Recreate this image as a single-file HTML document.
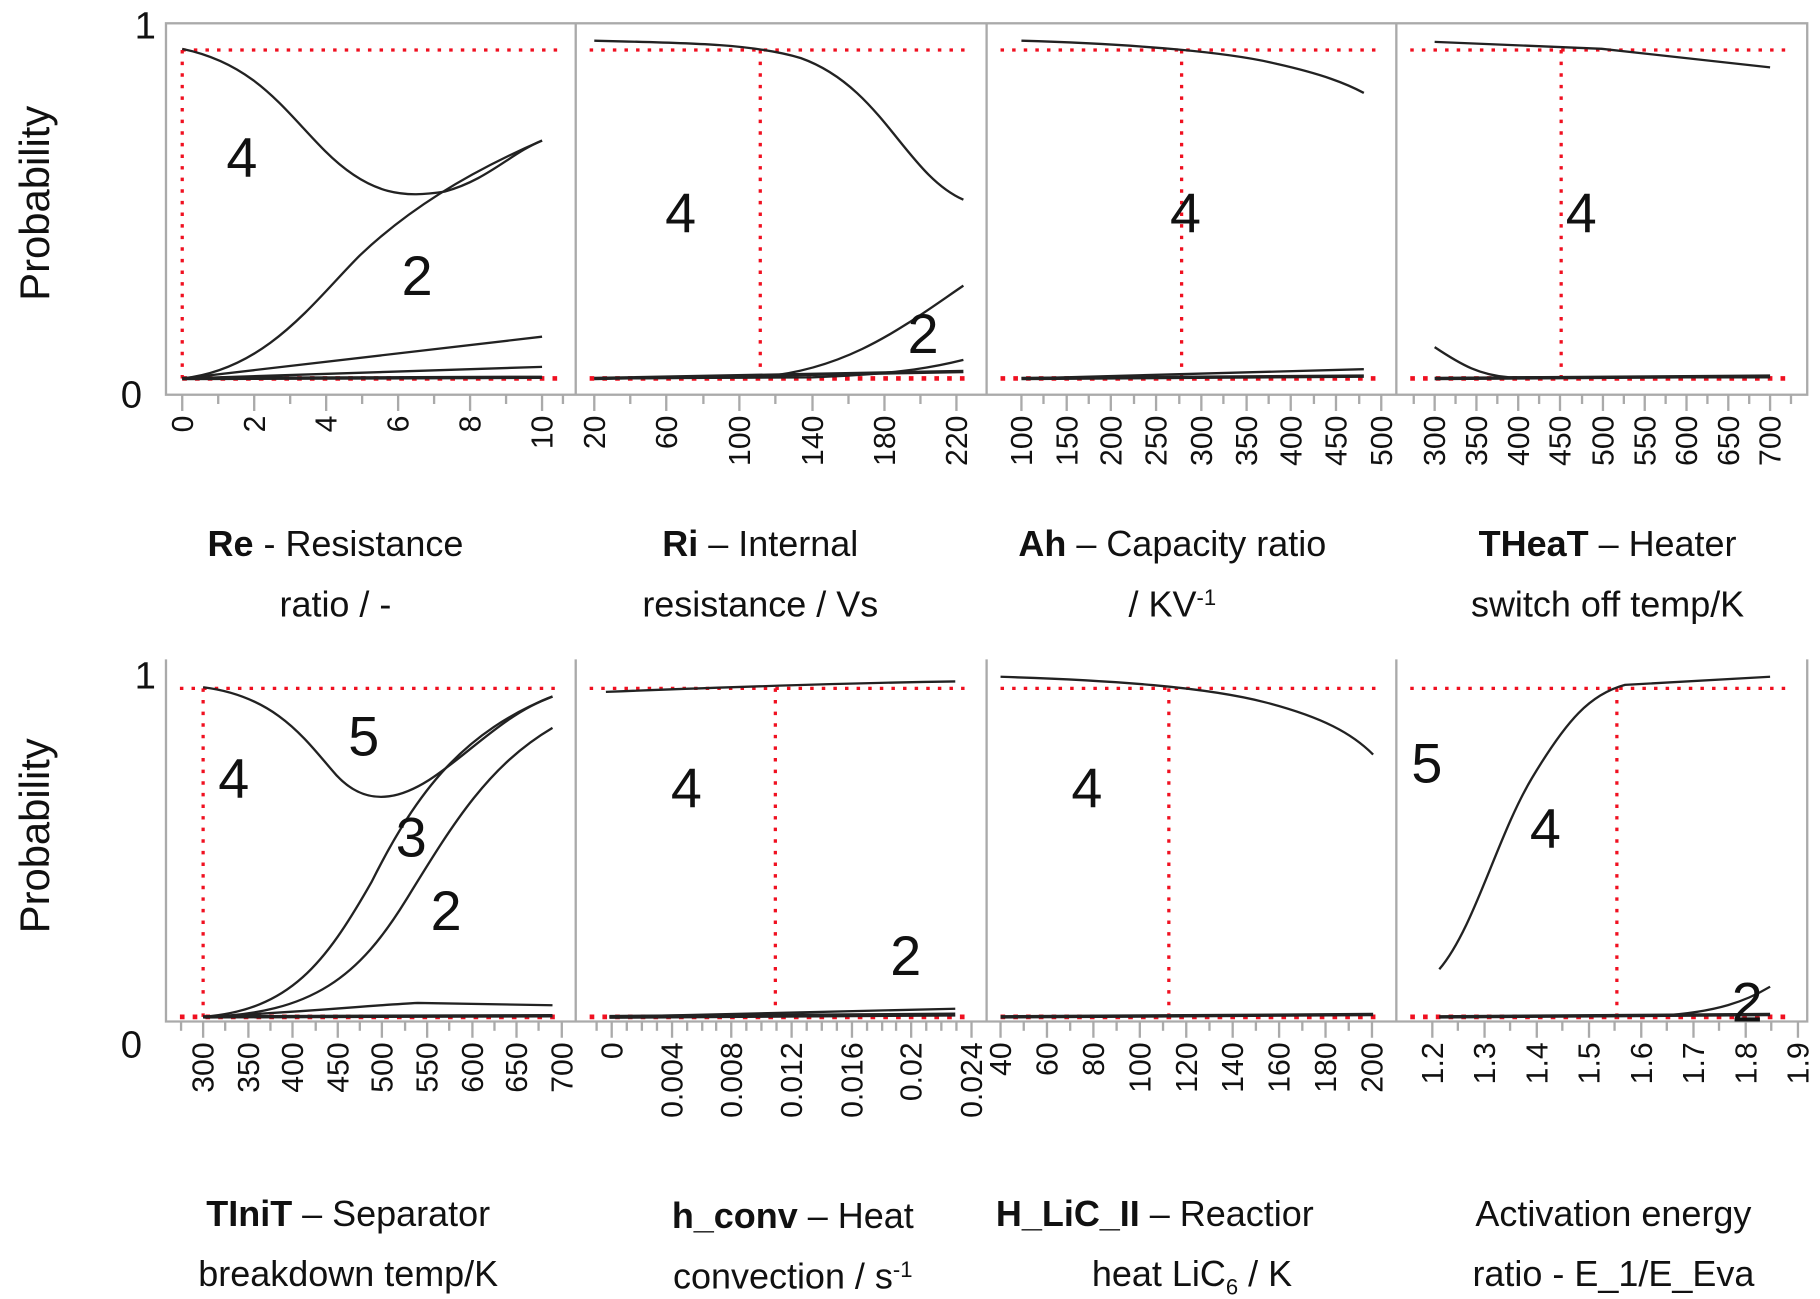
<!DOCTYPE html>
<html><head><meta charset="utf-8"><style>
html,body{margin:0;padding:0;background:#fff}
svg{display:block}
text{font-family:"Liberation Sans",sans-serif;fill:#111}
.tl{font-size:26px}
.ti{font-size:31px}
.big{font-size:48px}
.c{fill:none;stroke:#222;stroke-width:2}
.r{stroke:#f01020;stroke-width:2.8;stroke-dasharray:3 7;fill:none}
.rb{stroke:#f01020;stroke-width:4;stroke-dasharray:4 7;fill:none}
.fr{fill:none;stroke:#aaa;stroke-width:2}
.tk{stroke:#aaa;stroke-width:2}
</style></head><body>
<svg width="1820" height="1299" viewBox="0 0 1568 1119" xmlns="http://www.w3.org/2000/svg">
<text x="116" y="33" style="font-size:33px">1</text>
<text x="104" y="351" style="font-size:33px">0</text>
<text transform="translate(42,175) rotate(-90)" text-anchor="middle" style="font-size:36px">Probability</text>
<text x="116" y="593" style="font-size:33px">1</text>
<text x="104" y="911" style="font-size:33px">0</text>
<text transform="translate(42,720) rotate(-90)" text-anchor="middle" style="font-size:36px">Probability</text>

<rect class="fr" x="143" y="20" width="1414" height="320"/>
<line class="fr" x1="496" y1="20" x2="496" y2="340"/>
<line class="fr" x1="850" y1="20" x2="850" y2="340"/>
<line class="fr" x1="1203" y1="20" x2="1203" y2="340"/>
<polyline class="fr" points="143,568 143,880 1557,880 1557,568"/>
<line class="fr" x1="496" y1="568" x2="496" y2="880"/>
<line class="fr" x1="850" y1="568" x2="850" y2="880"/>
<line class="fr" x1="1203" y1="568" x2="1203" y2="880"/>

<g class="r">
<line x1="157" y1="43" x2="484" y2="43"/><line x1="157" y1="43" x2="157" y2="326"/>
<line x1="508" y1="43" x2="838" y2="43"/><line x1="655" y1="43" x2="655" y2="326"/>
<line x1="862" y1="43" x2="1191" y2="43"/><line x1="1018" y1="43" x2="1018" y2="326"/>
<line x1="1215" y1="43" x2="1545" y2="43"/><line x1="1345" y1="43" x2="1345" y2="326"/>
<line x1="155" y1="593" x2="484" y2="593"/><line x1="175" y1="593" x2="175" y2="876"/>
<line x1="508" y1="593" x2="838" y2="593"/><line x1="668" y1="593" x2="668" y2="876"/>
<line x1="862" y1="593" x2="1191" y2="593"/><line x1="1007" y1="593" x2="1007" y2="876"/>
<line x1="1215" y1="593" x2="1545" y2="593"/><line x1="1393" y1="593" x2="1393" y2="876"/>
</g>
<g class="rb">
<line x1="157" y1="326" x2="484" y2="326"/><line x1="508" y1="326" x2="838" y2="326"/><line x1="862" y1="326" x2="1191" y2="326"/><line x1="1215" y1="326" x2="1545" y2="326"/>
<line x1="155" y1="876" x2="484" y2="876"/><line x1="508" y1="876" x2="838" y2="876"/><line x1="862" y1="876" x2="1191" y2="876"/><line x1="1215" y1="876" x2="1545" y2="876"/>
</g>

<path class="c" d="M157,42 C220,55 245,95 280,130 C320,170 350,170 383,165 C420,155 440,132 467,121"/>
<path class="c" d="M157,326 C230,318 270,260 310,220 C350,182 400,150 467,121"/>
<path class="c" d="M157,326 L467,290"/>
<path class="c" d="M157,326 L467,316"/>
<path class="c" style="stroke-width:3" d="M157,326 L467,325"/>
<text class="big" x="195" y="152">4</text>
<text class="big" x="346" y="254">2</text>

<path class="c" d="M512,35 C600,37 650,38 690,50 C760,75 780,150 830,172"/>
<path class="c" d="M512,326 L650,325 C730,320 780,280 830,246"/>
<path class="c" d="M512,326 L700,325 C780,322 810,315 830,310"/>
<path class="c" style="stroke-width:3" d="M512,326 L830,320"/>
<text class="big" x="573" y="200">4</text>
<text class="big" x="782" y="304">2</text>

<path class="c" d="M880,35 C980,38 1060,45 1100,55 C1140,64 1160,72 1175,80"/>
<path class="c" style="stroke-width:3" d="M880,326 L1175,324"/>
<path class="c" d="M880,326 L1175,318"/>
<text class="big" x="1008" y="200">4</text>

<path class="c" d="M1236,36 L1380,42 L1525,58"/>
<path class="c" d="M1236,299 C1260,315 1275,323 1300,325 L1525,325"/>
<path class="c" style="stroke-width:3" d="M1236,326 L1525,324"/>
<text class="big" x="1349" y="200">4</text>

<path class="c" d="M175,592 C240,600 265,640 290,668 C305,684 320,688 335,686 C380,680 420,620 476,600"/>
<path class="c" d="M175,876 C250,870 280,830 320,760 C360,680 400,630 476,600"/>
<path class="c" d="M175,876 C270,874 310,840 350,775 C390,710 420,660 476,627"/>
<path class="c" d="M175,876 C260,872 320,866 360,864 L476,866"/>
<path class="c" style="stroke-width:3" d="M175,876 L476,875"/>
<text class="big" x="188" y="687">4</text>
<text class="big" x="300" y="651">5</text>
<text class="big" x="341" y="738">3</text>
<text class="big" x="371" y="801">2</text>

<path class="c" d="M522,596 C650,591 750,588 823,587"/>
<path class="c" style="stroke-width:3.5" d="M525,876 L823,874"/>
<path class="c" d="M525,876 L823,869"/>
<text class="big" x="578" y="695">4</text>
<text class="big" x="767" y="840">2</text>

<path class="c" d="M862,583 C960,586 1040,592 1090,605 C1140,618 1165,632 1183,650"/>
<path class="c" style="stroke-width:3" d="M862,876 L1183,874"/>
<text class="big" x="923" y="695">4</text>

<path class="c" d="M1240,835 C1270,800 1290,720 1320,670 C1350,620 1370,598 1400,590 L1525,583"/>
<path class="c" d="M1240,876 L1430,875 C1480,872 1505,862 1525,850"/>
<path class="c" style="stroke-width:3" d="M1240,876 L1525,874"/>
<text class="big" x="1216" y="674">5</text>
<text class="big" x="1318" y="730">4</text>
<text class="big" x="1492" y="880">2</text>

<g class="tk">
<line x1="157" y1="340" x2="157" y2="354"/><line x1="188" y1="340" x2="188" y2="348"/><line x1="219" y1="340" x2="219" y2="354"/><line x1="250" y1="340" x2="250" y2="348"/><line x1="281" y1="340" x2="281" y2="354"/><line x1="312" y1="340" x2="312" y2="348"/><line x1="343" y1="340" x2="343" y2="354"/><line x1="374" y1="340" x2="374" y2="348"/><line x1="405" y1="340" x2="405" y2="354"/><line x1="436" y1="340" x2="436" y2="348"/><line x1="467" y1="340" x2="467" y2="354"/><line x1="485" y1="340" x2="485" y2="348"/>
<line x1="512" y1="340" x2="512" y2="354"/><line x1="543" y1="340" x2="543" y2="348"/><line x1="574" y1="340" x2="574" y2="354"/><line x1="606" y1="340" x2="606" y2="348"/><line x1="637" y1="340" x2="637" y2="354"/><line x1="668" y1="340" x2="668" y2="348"/><line x1="700" y1="340" x2="700" y2="354"/><line x1="731" y1="340" x2="731" y2="348"/><line x1="762" y1="340" x2="762" y2="354"/><line x1="793" y1="340" x2="793" y2="348"/><line x1="824" y1="340" x2="824" y2="354"/>
<line x1="880" y1="340" x2="880" y2="354"/><line x1="899" y1="340" x2="899" y2="348"/><line x1="919" y1="340" x2="919" y2="354"/><line x1="938" y1="340" x2="938" y2="348"/><line x1="957" y1="340" x2="957" y2="354"/><line x1="977" y1="340" x2="977" y2="348"/><line x1="996" y1="340" x2="996" y2="354"/><line x1="1016" y1="340" x2="1016" y2="348"/><line x1="1035" y1="340" x2="1035" y2="354"/><line x1="1054" y1="340" x2="1054" y2="348"/><line x1="1074" y1="340" x2="1074" y2="354"/><line x1="1093" y1="340" x2="1093" y2="348"/><line x1="1112" y1="340" x2="1112" y2="354"/><line x1="1132" y1="340" x2="1132" y2="348"/><line x1="1151" y1="340" x2="1151" y2="354"/><line x1="1171" y1="340" x2="1171" y2="348"/><line x1="1190" y1="340" x2="1190" y2="354"/>
<line x1="1218" y1="340" x2="1218" y2="348"/><line x1="1236" y1="340" x2="1236" y2="354"/><line x1="1254" y1="340" x2="1254" y2="348"/><line x1="1272" y1="340" x2="1272" y2="354"/><line x1="1290" y1="340" x2="1290" y2="348"/><line x1="1308" y1="340" x2="1308" y2="354"/><line x1="1326" y1="340" x2="1326" y2="348"/><line x1="1344" y1="340" x2="1344" y2="354"/><line x1="1363" y1="340" x2="1363" y2="348"/><line x1="1381" y1="340" x2="1381" y2="354"/><line x1="1399" y1="340" x2="1399" y2="348"/><line x1="1417" y1="340" x2="1417" y2="354"/><line x1="1435" y1="340" x2="1435" y2="348"/><line x1="1453" y1="340" x2="1453" y2="354"/><line x1="1471" y1="340" x2="1471" y2="348"/><line x1="1489" y1="340" x2="1489" y2="354"/><line x1="1507" y1="340" x2="1507" y2="348"/><line x1="1525" y1="340" x2="1525" y2="354"/><line x1="1543" y1="340" x2="1543" y2="348"/>
</g>
<g class="tk">
<line x1="156" y1="880" x2="156" y2="888"/><line x1="175" y1="880" x2="175" y2="894"/><line x1="194" y1="880" x2="194" y2="888"/><line x1="214" y1="880" x2="214" y2="894"/><line x1="233" y1="880" x2="233" y2="888"/><line x1="252" y1="880" x2="252" y2="894"/><line x1="272" y1="880" x2="272" y2="888"/><line x1="291" y1="880" x2="291" y2="894"/><line x1="310" y1="880" x2="310" y2="888"/><line x1="329" y1="880" x2="329" y2="894"/><line x1="349" y1="880" x2="349" y2="888"/><line x1="368" y1="880" x2="368" y2="894"/><line x1="387" y1="880" x2="387" y2="888"/><line x1="407" y1="880" x2="407" y2="894"/><line x1="426" y1="880" x2="426" y2="888"/><line x1="445" y1="880" x2="445" y2="894"/><line x1="464" y1="880" x2="464" y2="888"/><line x1="484" y1="880" x2="484" y2="894"/>
<line x1="514" y1="880" x2="514" y2="888"/><line x1="527" y1="880" x2="527" y2="894"/><line x1="540" y1="880" x2="540" y2="888"/><line x1="553" y1="880" x2="553" y2="888"/><line x1="566" y1="880" x2="566" y2="888"/><line x1="579" y1="880" x2="579" y2="894"/><line x1="592" y1="880" x2="592" y2="888"/><line x1="605" y1="880" x2="605" y2="888"/><line x1="617" y1="880" x2="617" y2="888"/><line x1="630" y1="880" x2="630" y2="894"/><line x1="643" y1="880" x2="643" y2="888"/><line x1="656" y1="880" x2="656" y2="888"/><line x1="669" y1="880" x2="669" y2="888"/><line x1="682" y1="880" x2="682" y2="894"/><line x1="695" y1="880" x2="695" y2="888"/><line x1="708" y1="880" x2="708" y2="888"/><line x1="721" y1="880" x2="721" y2="888"/><line x1="734" y1="880" x2="734" y2="894"/><line x1="747" y1="880" x2="747" y2="888"/><line x1="760" y1="880" x2="760" y2="888"/><line x1="772" y1="880" x2="772" y2="888"/><line x1="785" y1="880" x2="785" y2="894"/><line x1="798" y1="880" x2="798" y2="888"/><line x1="811" y1="880" x2="811" y2="888"/><line x1="824" y1="880" x2="824" y2="888"/><line x1="837" y1="880" x2="837" y2="894"/>
<line x1="862" y1="880" x2="862" y2="894"/><line x1="882" y1="880" x2="882" y2="888"/><line x1="902" y1="880" x2="902" y2="894"/><line x1="922" y1="880" x2="922" y2="888"/><line x1="942" y1="880" x2="942" y2="894"/><line x1="962" y1="880" x2="962" y2="888"/><line x1="982" y1="880" x2="982" y2="894"/><line x1="1002" y1="880" x2="1002" y2="888"/><line x1="1022" y1="880" x2="1022" y2="894"/><line x1="1042" y1="880" x2="1042" y2="888"/><line x1="1062" y1="880" x2="1062" y2="894"/><line x1="1082" y1="880" x2="1082" y2="888"/><line x1="1102" y1="880" x2="1102" y2="894"/><line x1="1122" y1="880" x2="1122" y2="888"/><line x1="1142" y1="880" x2="1142" y2="894"/><line x1="1162" y1="880" x2="1162" y2="888"/><line x1="1182" y1="880" x2="1182" y2="894"/>
<line x1="1234" y1="880" x2="1234" y2="894"/><line x1="1256" y1="880" x2="1256" y2="888"/><line x1="1279" y1="880" x2="1279" y2="894"/><line x1="1301" y1="880" x2="1301" y2="888"/><line x1="1324" y1="880" x2="1324" y2="894"/><line x1="1346" y1="880" x2="1346" y2="888"/><line x1="1369" y1="880" x2="1369" y2="894"/><line x1="1391" y1="880" x2="1391" y2="888"/><line x1="1414" y1="880" x2="1414" y2="894"/><line x1="1436" y1="880" x2="1436" y2="888"/><line x1="1459" y1="880" x2="1459" y2="894"/><line x1="1481" y1="880" x2="1481" y2="888"/><line x1="1504" y1="880" x2="1504" y2="894"/><line x1="1526" y1="880" x2="1526" y2="888"/><line x1="1549" y1="880" x2="1549" y2="894"/>
</g>

<g class="tl" text-anchor="end">
<text transform="translate(157,358) rotate(-90)" dy="0.35em">0</text>
<text transform="translate(219,358) rotate(-90)" dy="0.35em">2</text>
<text transform="translate(281,358) rotate(-90)" dy="0.35em">4</text>
<text transform="translate(343,358) rotate(-90)" dy="0.35em">6</text>
<text transform="translate(405,358) rotate(-90)" dy="0.35em">8</text>
<text transform="translate(467,358) rotate(-90)" dy="0.35em">10</text>
<text transform="translate(512,358) rotate(-90)" dy="0.35em">20</text>
<text transform="translate(574,358) rotate(-90)" dy="0.35em">60</text>
<text transform="translate(637,358) rotate(-90)" dy="0.35em">100</text>
<text transform="translate(700,358) rotate(-90)" dy="0.35em">140</text>
<text transform="translate(762,358) rotate(-90)" dy="0.35em">180</text>
<text transform="translate(824,358) rotate(-90)" dy="0.35em">220</text>
<text transform="translate(880,358) rotate(-90)" dy="0.35em">100</text>
<text transform="translate(919,358) rotate(-90)" dy="0.35em">150</text>
<text transform="translate(957,358) rotate(-90)" dy="0.35em">200</text>
<text transform="translate(996,358) rotate(-90)" dy="0.35em">250</text>
<text transform="translate(1035,358) rotate(-90)" dy="0.35em">300</text>
<text transform="translate(1074,358) rotate(-90)" dy="0.35em">350</text>
<text transform="translate(1112,358) rotate(-90)" dy="0.35em">400</text>
<text transform="translate(1151,358) rotate(-90)" dy="0.35em">450</text>
<text transform="translate(1190,358) rotate(-90)" dy="0.35em">500</text>
<text transform="translate(1236,358) rotate(-90)" dy="0.35em">300</text>
<text transform="translate(1272,358) rotate(-90)" dy="0.35em">350</text>
<text transform="translate(1308,358) rotate(-90)" dy="0.35em">400</text>
<text transform="translate(1344,358) rotate(-90)" dy="0.35em">450</text>
<text transform="translate(1381,358) rotate(-90)" dy="0.35em">500</text>
<text transform="translate(1417,358) rotate(-90)" dy="0.35em">550</text>
<text transform="translate(1453,358) rotate(-90)" dy="0.35em">600</text>
<text transform="translate(1489,358) rotate(-90)" dy="0.35em">650</text>
<text transform="translate(1525,358) rotate(-90)" dy="0.35em">700</text>
</g>
<g class="tl" text-anchor="end">
<text transform="translate(175,898) rotate(-90)" dy="0.35em">300</text>
<text transform="translate(214,898) rotate(-90)" dy="0.35em">350</text>
<text transform="translate(252,898) rotate(-90)" dy="0.35em">400</text>
<text transform="translate(291,898) rotate(-90)" dy="0.35em">450</text>
<text transform="translate(329,898) rotate(-90)" dy="0.35em">500</text>
<text transform="translate(368,898) rotate(-90)" dy="0.35em">550</text>
<text transform="translate(407,898) rotate(-90)" dy="0.35em">600</text>
<text transform="translate(445,898) rotate(-90)" dy="0.35em">650</text>
<text transform="translate(484,898) rotate(-90)" dy="0.35em">700</text>
<text transform="translate(527,898) rotate(-90)" dy="0.35em">0</text>
<text transform="translate(579,898) rotate(-90)" dy="0.35em">0.004</text>
<text transform="translate(630,898) rotate(-90)" dy="0.35em">0.008</text>
<text transform="translate(682,898) rotate(-90)" dy="0.35em">0.012</text>
<text transform="translate(734,898) rotate(-90)" dy="0.35em">0.016</text>
<text transform="translate(785,898) rotate(-90)" dy="0.35em">0.02</text>
<text transform="translate(837,898) rotate(-90)" dy="0.35em">0.024</text>
<text transform="translate(862,898) rotate(-90)" dy="0.35em">40</text>
<text transform="translate(902,898) rotate(-90)" dy="0.35em">60</text>
<text transform="translate(942,898) rotate(-90)" dy="0.35em">80</text>
<text transform="translate(982,898) rotate(-90)" dy="0.35em">100</text>
<text transform="translate(1022,898) rotate(-90)" dy="0.35em">120</text>
<text transform="translate(1062,898) rotate(-90)" dy="0.35em">140</text>
<text transform="translate(1102,898) rotate(-90)" dy="0.35em">160</text>
<text transform="translate(1142,898) rotate(-90)" dy="0.35em">180</text>
<text transform="translate(1182,898) rotate(-90)" dy="0.35em">200</text>
<text transform="translate(1234,898) rotate(-90)" dy="0.35em">1.2</text>
<text transform="translate(1279,898) rotate(-90)" dy="0.35em">1.3</text>
<text transform="translate(1324,898) rotate(-90)" dy="0.35em">1.4</text>
<text transform="translate(1369,898) rotate(-90)" dy="0.35em">1.5</text>
<text transform="translate(1414,898) rotate(-90)" dy="0.35em">1.6</text>
<text transform="translate(1459,898) rotate(-90)" dy="0.35em">1.7</text>
<text transform="translate(1504,898) rotate(-90)" dy="0.35em">1.8</text>
<text transform="translate(1549,898) rotate(-90)" dy="0.35em">1.9</text>
</g>

<g class="ti" text-anchor="middle">
<text x="289" y="479"><tspan font-weight="bold">Re</tspan> - Resistance</text>
<text x="289" y="531">ratio / -</text>
<text x="655" y="479"><tspan font-weight="bold">Ri</tspan> – Internal</text>
<text x="655" y="531">resistance / Vs</text>
<text x="1010" y="479"><tspan font-weight="bold">Ah</tspan> – Capacity ratio</text>
<text x="1010" y="531">/ KV<tspan dy="-10" style="font-size:19px">-1</tspan></text>
<text x="1385" y="479"><tspan font-weight="bold">THeaT</tspan> – Heater</text>
<text x="1385" y="531">switch off temp/K</text>
<text x="300" y="1056"><tspan font-weight="bold">TIniT</tspan> – Separator</text>
<text x="300" y="1108">breakdown temp/K</text>
<text x="683" y="1058"><tspan font-weight="bold">h_conv</tspan> – Heat</text>
<text x="683" y="1110">convection / s<tspan dy="-10" style="font-size:19px">-1</tspan></text>
<text x="1027" y="1108">heat LiC<tspan dy="7" style="font-size:19px">6</tspan><tspan dy="-7"> / K</tspan></text>
<text x="1390" y="1056">Activation energy</text>
<text x="1390" y="1108">ratio - E_1/E_Eva</text>
</g>
<svg x="850" y="1020" width="338" height="50"><text class="ti" x="8" y="36"><tspan font-weight="bold">H_LiC_II</tspan> – Reactior</text></svg>
</svg>
</body></html>
